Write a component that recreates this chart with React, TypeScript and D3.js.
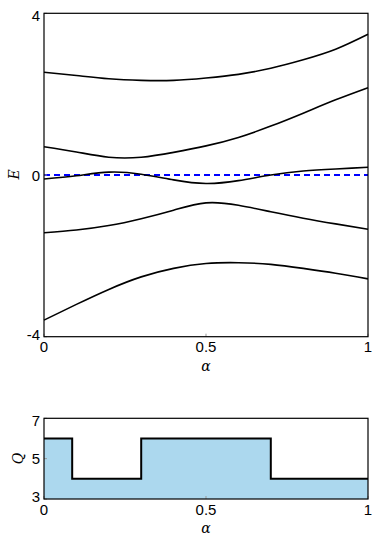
import React from "react";
import * as d3 from "d3";

const alphas = [0, 0.1, 0.2, 0.3, 0.4, 0.5, 0.6, 0.7, 0.8, 0.9, 1];
const band1 = [2.54, 2.46, 2.38, 2.34, 2.34, 2.4, 2.49, 2.64, 2.85, 3.11, 3.48];
const band2 = [0.7, 0.57, 0.44, 0.44, 0.56, 0.72, 0.93, 1.21, 1.53, 1.86, 2.16];
const band3 = [-0.1, -0.02, 0.07, 0.02, -0.12, -0.21, -0.14, 0.0, 0.1, 0.15, 0.19];
const band4 = [-1.43, -1.36, -1.25, -1.08, -0.87, -0.69, -0.75, -0.91, -1.07, -1.21, -1.34];
const band5 = [-3.59, -3.2, -2.83, -2.52, -2.31, -2.19, -2.17, -2.21, -2.31, -2.43, -2.57];
const bands = [band1, band2, band3, band4, band5];

const qAlphas = [0, 0.087, 0.3, 0.7, 1];
const qValues = [6, 4, 6, 4, 4];

const xTicks = [0, 0.5, 1];
const xTickLabels = ["0", "0.5", "1"];
const eTicks = [-4, 0, 4];
const eTickLabels = ["-4", "0", "4"];
const qTicks = [3, 5, 7];
const qTickLabels = ["3", "5", "7"];

const W = 379;
const H = 544;
const left = 44;
const right = 368;
const topA = 13.3;
const botA = 336.7;
const topB = 418.3;
const botB = 499;

const tickFont = "'Liberation Sans', Arial, sans-serif";
const labelFont = "'DejaVu Serif', 'Liberation Serif', serif";

export default function App() {
  const x = d3.scaleLinear().domain([0, 1]).range([left, right]);
  const yE = d3.scaleLinear().domain([-4, 4]).range([botA, topA]);
  const yQ = d3.scaleLinear().domain([3, 7]).range([botB, topB]);

  const line = (vals: number[]) =>
    d3
      .line<number>()
      .x((_, i) => x(alphas[i]))
      .y((v) => yE(v))
      .curve(d3.curveNatural)(vals) || "";

  const qPts = qAlphas.map((a, i) => [a, qValues[i]] as [number, number]);
  const qLine =
    d3
      .line<[number, number]>()
      .x((d) => x(d[0]))
      .y((d) => yQ(d[1]))
      .curve(d3.curveStepAfter)(qPts) || "";
  const qArea =
    d3
      .area<[number, number]>()
      .x((d) => x(d[0]))
      .y0(yQ(3))
      .y1((d) => yQ(d[1]))
      .curve(d3.curveStepAfter)(qPts) || "";

  const clampLabel = (y: number, t: number, b: number) =>
    Math.min(Math.max(y, t + 2.5), b - 2.5);

  return (
    <svg
      width={W}
      height={H}
      style={{ position: "absolute", left: 0, top: 0, background: "#fff" }}
    >
      {/* Top panel */}
      <line x1={x(0)} x2={x(1)} y1={yE(0)} y2={yE(0)} stroke="#0000ff" strokeWidth={2} strokeDasharray="6,4" />
      {bands.map((b, i) => (
        <path key={i} d={line(b)} fill="none" stroke="#000" strokeWidth={1.6} />
      ))}
      {xTicks.map((t) => (
        <line key={"xt" + t} x1={x(t)} x2={x(t)} y1={botA} y2={botA - 3} stroke="#999" strokeWidth={1} />
      ))}
      {eTicks.map((t) => (
        <line key={"et" + t} x1={left} x2={left + 3} y1={yE(t)} y2={yE(t)} stroke="#999" strokeWidth={1} />
      ))}
      <rect x={left} y={topA} width={right - left} height={botA - topA} fill="none" stroke="#000" strokeWidth={1.2} />
      {eTicks.map((t, i) => (
        <text
          key={"el" + t}
          x={40}
          y={clampLabel(yE(t), topA, botA)}
          textAnchor="end"
          dominantBaseline="central"
          fontFamily={tickFont}
          fontSize={15}
        >
          {eTickLabels[i]}
        </text>
      ))}
      {xTicks.map((t, i) => (
        <text key={"xl" + t} x={x(t)} y={351.5} textAnchor="middle" fontFamily={tickFont} fontSize={15}>
          {xTickLabels[i]}
        </text>
      ))}
      <text x={x(0.5)} y={371} textAnchor="middle" fontFamily={labelFont} fontStyle="italic" fontSize={14}>
        α
      </text>
      <text
        transform={`translate(13.5,174.5) rotate(-90)`}
        textAnchor="middle"
        dominantBaseline="central"
        fontFamily={labelFont}
        fontStyle="italic"
        fontSize={14}
      >
        E
      </text>

      {/* Bottom panel */}
      <path d={qArea} fill="#acd8ee" stroke="none" />
      <path d={qLine} fill="none" stroke="#000" strokeWidth={2} />
      {xTicks.map((t) => (
        <line key={"xtb" + t} x1={x(t)} x2={x(t)} y1={botB} y2={botB - 3} stroke="#999" strokeWidth={1} />
      ))}
      {qTicks.map((t) => (
        <line key={"qt" + t} x1={left} x2={left + 3} y1={yQ(t)} y2={yQ(t)} stroke="#999" strokeWidth={1} />
      ))}
      <rect x={left} y={topB} width={right - left} height={botB - topB} fill="none" stroke="#000" strokeWidth={1.2} />
      {qTicks.map((t, i) => (
        <text
          key={"ql" + t}
          x={40}
          y={clampLabel(yQ(t), topB, botB)}
          textAnchor="end"
          dominantBaseline="central"
          fontFamily={tickFont}
          fontSize={15}
        >
          {qTickLabels[i]}
        </text>
      ))}
      {xTicks.map((t, i) => (
        <text key={"xlb" + t} x={x(t)} y={515} textAnchor="middle" fontFamily={tickFont} fontSize={15}>
          {xTickLabels[i]}
        </text>
      ))}
      <text x={x(0.5)} y={533} textAnchor="middle" fontFamily={labelFont} fontStyle="italic" fontSize={14}>
        α
      </text>
      <text
        transform={`translate(17.5,458.5) rotate(-90)`}
        textAnchor="middle"
        dominantBaseline="central"
        fontFamily={labelFont}
        fontStyle="italic"
        fontSize={14}
      >
        Q
      </text>
    </svg>
  );
}
